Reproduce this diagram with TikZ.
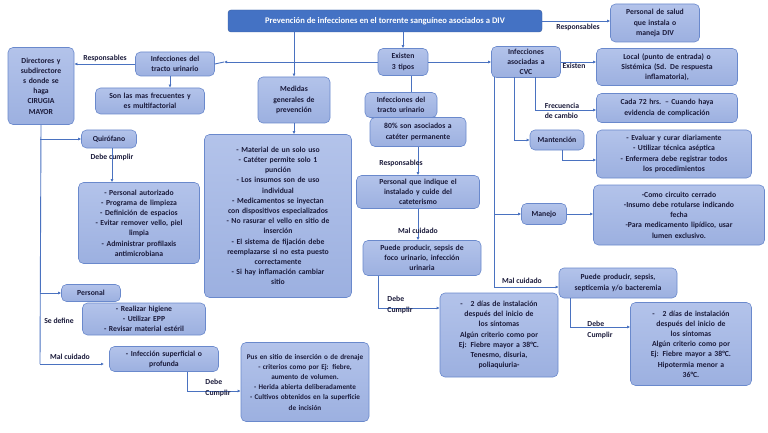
\documentclass[tikz,border=0pt]{standalone}
\usepackage{fontspec}
\setmainfont{Carlito}
\usetikzlibrary{arrows.meta}
\definecolor{bxfill}{HTML}{9CB0E0}
\definecolor{bxtop}{HTML}{B3C3EA}
\definecolor{bxline}{HTML}{6A89CC}
\definecolor{ttl}{HTML}{4472C4}
\definecolor{ln}{HTML}{4A72C0}
\definecolor{txt}{HTML}{1A1A3A}
\begin{document}
\begin{tikzpicture}[x=1pt,y=-1pt,
  box/.style={draw=bxline, line width=0.6pt, top color=bxtop, bottom color=bxfill, rounded corners=5pt, align=center, inner xsep=1pt, inner ysep=1pt, text=txt, font=\bfseries\fontsize{7.7}{10.2}\selectfont},
  lbl/.style={text=txt, font=\bfseries\fontsize{7.7}{10.2}\selectfont, align=left, inner sep=0pt},
  con/.style={draw=ln, line width=0.9pt},
  arr/.style={con, -{Latex[length=3pt,width=3pt]}}]
\useasboundingbox (0,0) rectangle (768,433);
\newcommand{\bx}[7][]{\node[box, minimum width=#5pt, minimum height=#6pt, text width=#5pt-2pt, #1] (#2) at (#3,#4) {#7};}
% title
\node[draw=ttl!80!black, fill=ttl, rounded corners=3pt, minimum width=314pt, minimum height=22pt, text=white, font=\bfseries\fontsize{8.6}{10}\selectfont] (title) at (385,21) {Prevención de infecciones en el torrente sanguíneo asociados a DIV};
\bx{salud}{655}{23}{89}{38}{Personal de salud\\ que instala o\\ maneja DIV}
\bx{ex3}{403}{62}{50}{27}{Existen\\ 3 tipos}
\bx{med}{294}{100}{72}{46}{Medidas\\ generales de\\ prevención}
\bx{itu}{175}{64}{79}{24}{Infecciones del\\ tracto urinario}
\bx{dir}{41}{86}{66}{77}{Directores y\\ subdirectore\\ s donde se\\ haga\\ CIRUGIA\\ MAYOR}
\bx{frec}{150}{101}{109}{26}{Son las mas frecuentes y\\ es multifactorial}
\bx{quir}{109}{139}{55}{18}{Quirófano}
\bx{pers}{139}{223}{121}{81}{- Personal autorizado\\ - Programa de limpieza\\ - Definición de espacios\\ - Evitar remover vello, piel\\ limpia\\ - Administrar profilaxis\\ antimicrobiana}
\bx{perso}{91}{293}{59}{17}{Personal}
\bx{hig}{144}{319}{123}{32}{- Realizar higiene\\ - Utilizar EPP\\ - Revisar material estéril}
\bx{sup}{164}{359}{109}{25}{- Infección superficial o\\ profunda}
\bx[font=\bfseries\fontsize{7.2}{10.2}\selectfont]{pus}{305}{382}{128}{79}{Pus en sitio de inserción o de drenaje\\ - criterios como por Ej: fiebre,\\ aumento de volumen.\\ - Herida abierta deliberadamente\\ - Cultivos obtenidos en la superficie\\ de incisión}
\bx{big}{278}{216}{147}{163}{- Material de un solo uso\\ - Catéter permite solo 1\\ punción\\ - Los insumos son de uso\\ individual\\ - Medicamentos se inyectan\\ con dispositivos especializados\\ - No rasurar el vello en sitio de\\ inserción\\ - El sistema de fijación debe\\ reemplazarse si no esta puesto\\ correctamente\\ - Si hay inflamación cambiar\\ sitio}
\bx{itu2}{401}{105}{72}{25}{Infecciones del\\ tracto urinario}
\bx{ochenta}{418}{132}{96}{29}{80\% son asociados a\\ catéter permanente}
\bx{indique}{418}{192}{123}{33}{Personal que indique el\\ instalado y cuide del\\ cateterismo}
\bx{foco}{422}{258}{118}{35}{Puede producir, sepsis de\\ foco urinario, infección\\ urinaria}
\bx{dias1}{499}{335}{118}{84}{-\quad 2 días de instalación\\ después del inicio de\\ los síntomas\\ Algún criterio como por\\ Ej: Fiebre mayor a 38°C.\\ Tenesmo, disuria,\\ poliaquiuria-}
\bx{cvc}{526}{62}{69}{31}{Infecciones\\ asociadas a\\ CVC}
\bx{local}{667}{67}{141}{37}{Local (punto de entrada) o\\ Sistémica (Sd. De respuesta\\ inflamatoria),}
\bx{cada}{667}{108}{141}{29}{Cada 72 hrs. – Cuando haya\\ evidencia de complicación}
\bx{mant}{557}{140}{54}{20}{Mantención}
\bx{eval}{674}{154}{155}{48}{- Evaluar y curar diariamente\\ - Utilizar técnica aséptica\\ - Enfermera debe registrar todos\\ los procedimientos}
\bx{manejo}{544}{214}{45}{21}{Manejo}
\bx{circ}{679}{215}{171}{60}{-Como circuito cerrado\\ -Insumo debe rotularse indicando\\ fecha\\ -Para medicamento lipídico, usar\\ lumen exclusivo.}
\bx{sep}{618}{283}{118}{30}{Puede producir, sepsis,\\ septicemia y/o bacteremia}
\bx{dias2}{691}{344}{121}{83}{-\quad 2 días de instalación\\ después del inicio de\\ los síntomas\\ Algún criterio como por\\ Ej: Fiebre mayor a 38°C.\\ Hipotermia menor a\\ 36°C.}
% coordinates
\coordinate (c1) at (40,364);
% connectors
\draw[arr] (title.east) -- (salud.west|-title.east);
\node[lbl] at (578,27) {Responsables};
\draw[arr] (ex3.north|-title.south) -- (ex3.north);
\draw[arr] (med.north|-title.south) -- (med.north);
\draw[arr] (ex3.west) -- (224,62);
\draw[con] (224,62) -- (itu.east);
\draw[arr] (itu.west) -- (dir.east|-itu.west);
\node[lbl] at (105,58) {Responsables};
\draw[arr] (170,76) -- (frec.north-|170,0);
\draw[con] (dir.south) -- (40,364);
\draw[arr] (40,139) -- (quir.west);
\node[lbl] at (112,157) {Debe cumplir};
\draw[arr] (quir.south-|112,0) -- (pers.north-|112,0);
\draw[arr] (40,293) -- (perso.west);
\node[lbl] at (59,321) {Se define};
\draw[arr] (c1) -- (104,364);
\node[lbl] at (70,357) {Mal cuidado};
\draw[arr] (187,371.5) -- (187,391) -- (pus.west|-0,391);
\node[lbl] at (218,388) {Debe\\ Cumplir};
\draw[arr] (med.south) -- (big.north-|med.south);
\draw[con] (ex3.south-|411,0) -- (411,92.5);
\draw[arr] (418,147) -- (indique.north-|418,0);
\node[lbl] at (401,163) {Responsables};
\draw[arr] (418,209) -- (foco.north-|418,0);
\node[lbl] at (418,231) {Mal cuidado};
\draw[arr] (378,275.5) -- (378,308) -- (dias1.west|-0,308);
\node[lbl] at (400,305) {Debe\\ Cumplir};
\draw[arr] (ex3.east) -- (cvc.west);
\draw[arr] (cvc.east) -- (local.west|-cvc.east);
\node[lbl] at (574,66) {Existen};
\draw[arr] (535,77.5) -- (535,110) -- (cada.west|-0,110);
\node[lbl] at (562,111) {Frecuencia\\ de cambio};
\draw[arr] (514,77.5) -- (514,140) -- (mant.west);
\draw[arr] (562,150) -- (562,160) -- (eval.west|-0,160);
\draw[con] (494,77.5) -- (494,287);
\draw[arr] (494,214) -- (manejo.west);
\draw[arr] (manejo.east) -- (circ.west|-manejo.east);
\draw[arr] (494,287) -- (sep.west|-0,287);
\node[lbl] at (522,281) {Mal cuidado};
\draw[arr] (570,298) -- (570,327) -- (dias2.west|-0,327);
\node[lbl] at (600,330) {Debe\\ Cumplir};
\end{tikzpicture}
\end{document}
